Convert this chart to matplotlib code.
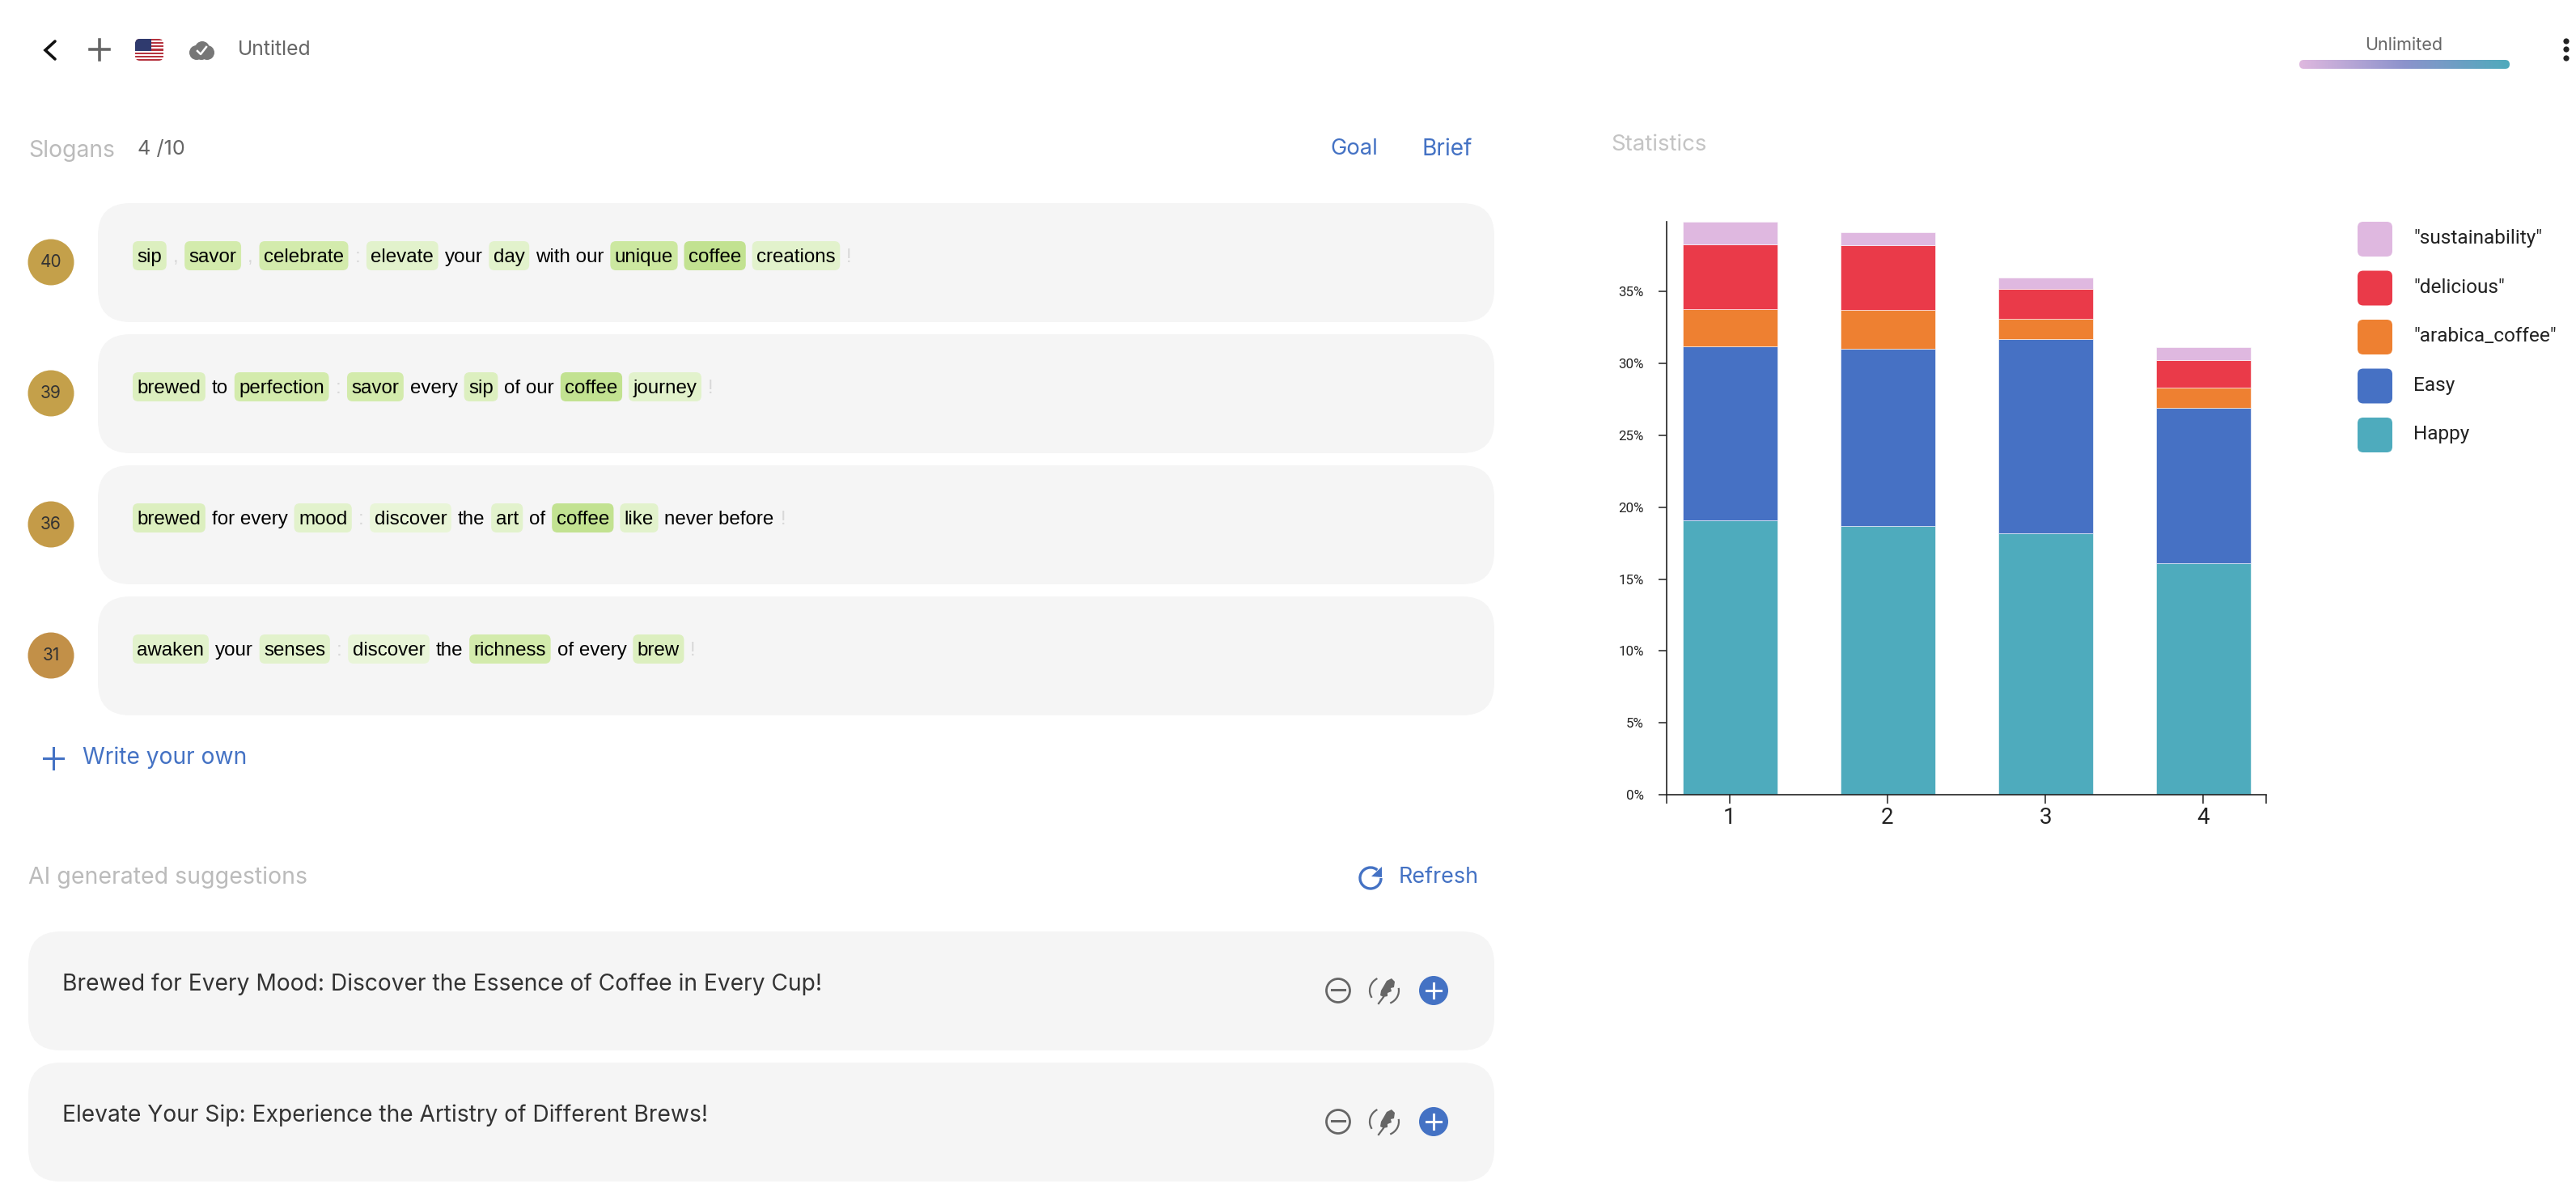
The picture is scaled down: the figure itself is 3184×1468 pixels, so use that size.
import numpy as np
import matplotlib
matplotlib.use("Agg")
import matplotlib.pyplot as plt
from matplotlib.patches import FancyBboxPatch, Circle, Rectangle, Arc, Polygon
from matplotlib.colors import LinearSegmentedColormap

# Datos del grafico
bars = [1, 2, 3, 4]
happy = [19.1, 18.7, 18.2, 16.1]
easy = [12.1, 12.3, 13.5, 10.8]
arabica = [2.55, 2.7, 1.4, 1.4]
delicious = [4.5, 4.5, 2.1, 1.9]
sustainability = [1.6, 0.9, 0.75, 0.95]
series_names = ["Happy", "Easy", '"arabica_coffee"', '"delicious"', '"sustainability"']
series_colors = ["#4eabbd", "#4671c4", "#ee8031", "#ea3a49", "#dfb8e0"]
y_ticks = [0, 5, 10, 15, 20, 25, 30, 35]

# Textos de la interfaz
scores = [40, 39, 36, 31]
score_colors = ["#c4a04a", "#c4a04a", "#c49b48", "#c29048"]
slogans = [
    [("sip", 3), (",", -1), ("savor", 4), (",", -1), ("celebrate", 4), (":", -1), ("elevate", 2),
     ("your", 0), ("day", 2), ("with our", 0), ("unique", 5), ("coffee", 6), ("creations", 2), ("!", -1)],
    [("brewed", 3), ("to", 0), ("perfection", 4), (":", -1), ("savor", 4), ("every", 0), ("sip", 3),
     ("of our", 0), ("coffee", 6), ("journey", 2), ("!", -1)],
    [("brewed", 3), ("for every", 0), ("mood", 2), (":", -1), ("discover", 1), ("the", 0), ("art", 2),
     ("of", 0), ("coffee", 6), ("like", 2), ("never before", 0), ("!", -1)],
    [("awaken", 2), ("your", 0), ("senses", 2), (":", -1), ("discover", 1), ("the", 0), ("richness", 4),
     ("of every", 0), ("brew", 3), ("!", -1)],
]
suggestions = ["Brewed for Every Mood: Discover the Essence of Coffee in Every Cup!",
               "Elevate Your Sip: Experience the Artistry of Different Brews!"]
chip_colors = {1: "#e9f5d8", 2: "#e2f2cc", 3: "#dcefbf", 4: "#d3ebac", 5: "#cce8a0", 6: "#c2e291"}

BLUE = "#4472c4"
UI_FONT = "Inter"
W, H = 3184, 1468

fig = plt.figure(figsize=(W / 100, H / 100), dpi=100, facecolor="white")

# Eje de la interfaz, en pixeles
ui = fig.add_axes([0, 0, 1, 1])
ui.set_xlim(0, W)
ui.set_ylim(H, 0)
ui.axis("off")
renderer = fig.canvas.get_renderer()


def rounded(x0, y0, x1, y1, r, color, z=1):
    p = FancyBboxPatch((x0, y0), x1 - x0, y1 - y0, boxstyle=f"round,pad=0,rounding_size={r}",
                       fc=color, ec="none", zorder=z)
    ui.add_patch(p)
    return p


def label(x, y, s, size, color, ha="left", family=UI_FONT):
    return ui.text(x, y, s, fontsize=size, color=color, ha=ha, va="center", family=family, zorder=5)


# Barra superior
ui.plot([68, 56, 68], [51, 62, 73], color="#111111", lw=2.6, solid_capstyle="round", solid_joinstyle="miter")
ui.plot([123, 123], [49, 74], color="#666666", lw=2.6)
ui.plot([111, 135], [61, 61], color="#666666", lw=2.6)

flag = rounded(167, 48, 202, 75, 6, "white", 2)
for i in range(13):
    r = Rectangle((167, 48 + i * 27 / 13), 35, 27 / 13, fc="#b5333f" if i % 2 == 0 else "white", ec="none", zorder=3)
    ui.add_patch(r)
    r.set_clip_path(flag)
canton = Rectangle((167, 48), 20, 14.5, fc="#2f3a6e", ec="none", zorder=4)
ui.add_patch(canton)
canton.set_clip_path(flag)

for cx, cy, rad in [(243, 65, 9), (250, 60, 9), (256, 65, 9), (249, 65, 9)]:
    ui.add_patch(Circle((cx, cy), rad, fc="#777777", ec="none", zorder=2))
ui.plot([244, 248, 255], [63, 67, 58], color="white", lw=1.8, zorder=3)
label(294, 62, "Untitled", 17.8, "#666666")

label(2971, 56, "Unlimited", 15.5, "#666666", ha="center")
grad = LinearSegmentedColormap.from_list("lim", ["#dfb8df", "#8c93cc", "#4faabc"])
im = ui.imshow(np.linspace(0, 1, 256).reshape(1, -1), extent=(2842, 3102, 85, 74), cmap=grad,
               aspect="auto", zorder=2)
im.set_clip_path(rounded(2842, 74, 3102, 85, 5.5, "white", 1))
ui.set_xlim(0, W)
ui.set_ylim(H, 0)
for y in [51, 61, 72]:
    ui.add_patch(Circle((3172, y), 3.6, fc="#222222", ec="none", zorder=3))

# Slogans
label(35, 186, "Slogans", 20.4, "#bbbbbb")
label(170, 184, "4 /10", 18.2, "#666666")
label(1644, 184, "Goal", 19.7, BLUE)
label(1757, 184, "Brief", 20.2, BLUE)
label(1991, 179, "Statistics", 19.9, "#c4c4c4")

for n, tokens in enumerate(slogans):
    top = 251 + n * 162
    rounded(121, top, 1847, top + 147, 40, "#f5f5f5")
    ui.add_patch(Circle((63, top + 73), 28.5, fc=score_colors[n], ec="none", zorder=2))
    label(63, top + 73, str(scores[n]), 15, "#333333", ha="center")

    # Las palabras se ubican una tras otra midiendo su ancho
    x = 164.0
    mid = top + 65
    for word, level in tokens:
        color = "#d8d8d8" if level < 0 else "black"
        pad = 5.5 if level > 0 else 0
        t = ui.text(x + pad, mid + 8, word, fontsize=17.4, color=color, family="Liberation Sans",
                    ha="left", va="baseline", zorder=5)
        w = t.get_window_extent(renderer).width
        if level > 0:
            rounded(x, mid - 18, x + w + 2 * pad, mid + 18, 7, chip_colors[level], 3)
        x += w + 2 * pad + 7.9

ui.plot([66, 66], [924, 950], color=BLUE, lw=2.2)
ui.plot([54, 78], [937, 937], color=BLUE, lw=2.2)
label(102, 936, "Write your own", 20.3, BLUE)

# Sugerencias
label(35, 1084, "AI generated suggestions", 20.5, "#bbbbbb")
ui.add_patch(Arc((1694, 1085), 26, 26, theta1=0, theta2=310, color=BLUE, lw=2.4, zorder=3))
ui.add_patch(Polygon([[1708, 1071], [1708, 1084], [1695, 1083]], fc=BLUE, ec="none", zorder=3))
label(1729, 1084, "Refresh", 19.4, BLUE)

leaf = np.array([(9, -15), (13, -11), (12, -4), (8, -3), (9, 1), (4, 3), (4, 7), (-1, 8),
                 (-5, 6), (-4, 0), (-1, -5), (3, -12)])
for n, s in enumerate(suggestions):
    top = 1151 + n * 162
    rounded(35, top, 1847, top + 147, 40, "#f5f5f5")
    label(77, top + 65, s, 20.3, "#333333")
    cy = top + 73
    ui.add_patch(Circle((1654, cy), 14.5, fc="none", ec="#666666", lw=2, zorder=3))
    ui.plot([1646, 1662], [cy - 1, cy - 1], color="#666666", lw=2.2, zorder=3)
    # icono de pluma
    ui.add_patch(Polygon(leaf + [1711, cy], fc="#666666", ec="none", zorder=3))
    ui.plot([1710, 1704], [cy + 8, cy + 16], color="#666666", lw=1.6, zorder=3)
    ui.add_patch(Arc((1711, cy), 36, 34, theta1=150, theta2=240, color="#666666", lw=1.6, zorder=3))
    ui.add_patch(Arc((1711, cy), 36, 34, theta1=-10, theta2=65, color="#666666", lw=1.6, zorder=3))
    ui.add_patch(Circle((1772, cy), 18, fc=BLUE, ec="none", zorder=3))
    ui.plot([1772, 1772], [cy - 9, cy + 9], color="white", lw=2.2, zorder=4)
    ui.plot([1763, 1781], [cy, cy], color="white", lw=2.2, zorder=4)

# Grafico de barras apiladas
series = np.array([happy, easy, arabica, delicious, sustainability])
ax = fig.add_axes([2060 / W, 1 - 982 / H, (2801 - 2060) / W, (982 - 274) / H])
ax.patch.set_alpha(0)
bottom = np.zeros(len(bars))
for vals, c in zip(series, series_colors):
    ax.bar(bars, vals, width=0.6, bottom=bottom, color=c, edgecolor="#ffffff", linewidth=0.4)
    bottom += vals
ax.set_xlim(0.6, 4.4)
ax.set_ylim(0, bottom.max())
ax.spines["top"].set_visible(False)
ax.spines["right"].set_visible(False)
for side in ["left", "bottom"]:
    ax.spines[side].set_linewidth(1.2)
    ax.spines[side].set_color("#222222")
ax.set_yticks(y_ticks)
ax.set_yticklabels([f"{v}%" for v in y_ticks], fontsize=12.2, family="Roboto", color="#222222")
ax.set_xticks([0.6] + bars + [4.4])
ax.set_xticklabels([""] + [str(b) for b in bars] + [""], fontsize=20, family="Roboto", color="#222222")
ax.tick_params(axis="y", length=7.2, width=1.1, pad=13, color="#222222")
ax.tick_params(axis="x", length=8, width=1.1, pad=2.6, color="#222222")

# Leyenda
for i, (name, c) in enumerate(zip(series_names[::-1], series_colors[::-1])):
    y0 = 274 + i * 60.5
    rounded(2914, y0, 2957, y0 + 43, 7, c, 3)
    label(2983, y0 + 21, name, 17.6, "#222222", family="Roboto")

fig.savefig("out.png", dpi=100)
